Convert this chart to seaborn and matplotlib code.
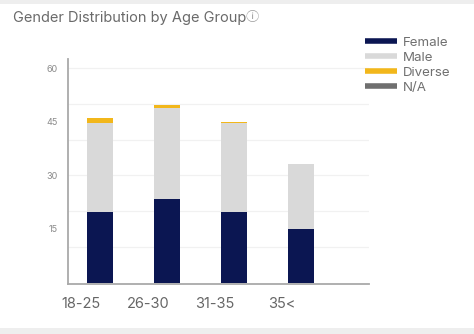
import matplotlib
matplotlib.use("Agg")
import matplotlib.pyplot as plt
import matplotlib.transforms as mtransforms
from matplotlib.lines import Line2D
from matplotlib.patches import Rectangle
import seaborn as sns
import pandas as pd
import numpy as np

# ---- data ----
age_groups = ["18-25", "26-30", "31-35", "35<"]
female = [19.8, 23.5, 19.8, 15.0]
male = [24.9, 25.4, 24.9, 18.2]
diverse = [1.3, 0.8, 0.3, 0.0]
na = [0.0, 0.0, 0.0, 0.0]
series_names = ["Female", "Male", "Diverse", "N/A"]
y_ticks = [15, 30, 45, 60]

colors = {"Female": "#0b1652", "Male": "#d9d9d9", "Diverse": "#f2b71b", "N/A": "#6f6f6f"}

sns.set_style("white")
plt.rcParams["font.family"] = ["Inter", "DejaVu Sans"]

fig = plt.figure(figsize=(4.74, 3.34), dpi=100)
fig.patch.set_facecolor("white")
# top/bottom frame bands
fig.patches.append(Rectangle((0, 1 - 4 / 334), 1, 4 / 334, transform=fig.transFigure,
                             facecolor="#eeeeee", edgecolor="none", zorder=0))
fig.patches.append(Rectangle((0, 0), 1, 6 / 334, transform=fig.transFigure,
                             facecolor="#eeeeee", edgecolor="none", zorder=0))

ax = fig.add_axes([67.7 / 474, (334 - 284) / 334, (369 - 67.7) / 474, (284 - 59) / 334])

df = pd.DataFrame({"age": age_groups, "Female": female, "Male": male,
                   "Diverse": diverse, "N/A": na})
# cumulative stacks drawn from the top layer down
cum = {}
running = np.zeros(len(age_groups))
for s in series_names:
    running = running + df[s].to_numpy()
    cum[s] = running.copy()

for s in reversed(series_names):
    sns.barplot(x=df["age"], y=cum[s], color=colors[s], width=0.4, ax=ax,
                saturation=1, linewidth=0, zorder=3)

ax.set_xlim(-0.482, 4.015)
ax.set_ylim(-0.4, 62.6)
ax.set_xlabel("")
ax.set_ylabel("")

# gridlines every 10, labels every 15
for g in range(10, 61, 10):
    ax.axhline(g, color="#f1f1f1", linewidth=0.9, zorder=1)
ax.set_yticks(y_ticks)
ax.set_yticklabels([str(t) for t in y_ticks], fontsize=6.5, color="#8a8a8a")
ax.tick_params(axis="y", length=0, pad=7)
ax.tick_params(axis="x", length=0, pad=9.5, labelsize=10.5, labelcolor="#666666")

offset = mtransforms.ScaledTranslation(-19 / 100, 0, fig.dpi_scale_trans)
for lab in ax.get_xticklabels():
    lab.set_transform(lab.get_transform() + offset)

for side in ["top", "right"]:
    ax.spines[side].set_visible(False)
for side in ["left", "bottom"]:
    ax.spines[side].set_color("#a9a9a9")
    ax.spines[side].set_linewidth(1.3)

# title
fig.text(13 / 474, 1 - 22 / 334, "Gender Distribution by Age Group", fontsize=10.5,
         color="#6a6a6a", ha="left", va="baseline")
fig.text(246 / 474, 1 - 21 / 334, "ⓘ", fontsize=9.5, color="#9a9a9a",
         ha="left", va="baseline", family=["Noto Sans CJK SC", "DejaVu Sans"])

handles = [Line2D([0], [0], color=colors[s], linewidth=4, solid_capstyle="butt")
           for s in series_names]
leg = fig.legend(handles, series_names, loc="upper left",
                 bbox_to_anchor=(360 / 474, 1 - 31 / 334), frameon=False,
                 fontsize=9.6, handlelength=2.4, handletextpad=0.45, labelspacing=0.2,
                 borderaxespad=0)
for t in leg.get_texts():
    t.set_color("#707070")

fig.savefig("out.png", dpi=100, facecolor="white")
